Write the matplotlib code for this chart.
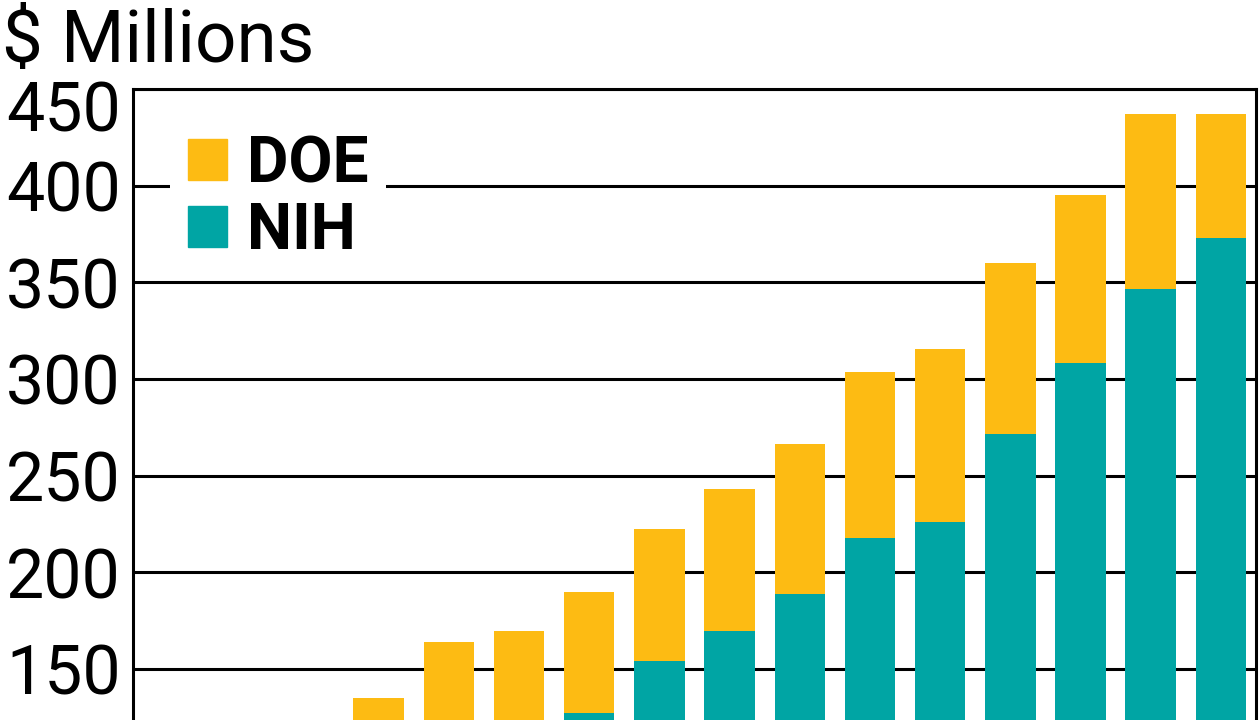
import matplotlib.pyplot as plt
from matplotlib.patches import Patch
from matplotlib.transforms import ScaledTranslation

plt.rcParams['font.family'] = ['Roboto', 'DejaVu Sans']

# Финансирование по годам, $ млн (первые годы уходят ниже обреза)
years = list(range(1988, 2004))
nih = [17.2, 28.2, 59.5, 87.7, 104.8, 106.1, 127.0, 154.0, 169.5, 189.0,
       218.0, 226.0, 271.7, 308.4, 346.6, 372.8]
doe = [10.7, 18.5, 28.2, 47.3, 59.2, 63.4, 63.0, 68.5, 73.5, 77.5,
       85.5, 89.5, 88.3, 86.6, 90.4, 64.2]
yticks = [150, 200, 250, 300, 350, 400, 450]

nih_color = '#00A5A4'
doe_color = '#FDBB13'

fig = plt.figure(figsize=(12.6, 7.2), dpi=100)
ax = fig.add_axes([133 / 1260, 0, 1123 / 1260, 1 - 89 / 720])

ax.bar(years, nih, width=0.72, color=nih_color, zorder=2)
ax.bar(years, doe, width=0.72, bottom=nih, color=doe_color, zorder=2)

ax.set_xlim(years[0] - 0.5, years[-1] + 0.5)
ax.set_ylim(123.6, 450)
ax.set_yticks(yticks)
ax.set_xticks([])
ax.tick_params(axis='y', length=0, pad=9, labelsize=49)
ax.yaxis.grid(True, color='black', linewidth=2.2)
ax.set_axisbelow(True)

# верхнюю подпись 450 опускаем, чтобы не упиралась в заголовок
top_label = ax.get_yticklabels()[-1]
top_label.set_transform(top_label.get_transform() + ScaledTranslation(0, -17 / 100, fig.dpi_scale_trans))

for side in ['left', 'right', 'top']:
    ax.spines[side].set_linewidth(2.2)
ax.spines['bottom'].set_visible(False)

handles = [Patch(color=doe_color, label='DOE'), Patch(color=nih_color, label='NIH')]
leg = ax.legend(handles=handles, loc='upper left', bbox_to_anchor=(0.033, 0.957),
                frameon=True, fancybox=False, edgecolor='none', facecolor='white',
                framealpha=1, prop={'weight': 'bold', 'size': 46},
                handlelength=0.61, handleheight=0.61, handletextpad=0.31,
                labelspacing=0.1, borderpad=0.28, borderaxespad=0)
leg.set_zorder(5)

fig.text(2 / 1260, 1 - 62 / 720, '$ Millions', fontsize=52.5, va='baseline', ha='left')

fig.savefig('out.png', dpi=100)
